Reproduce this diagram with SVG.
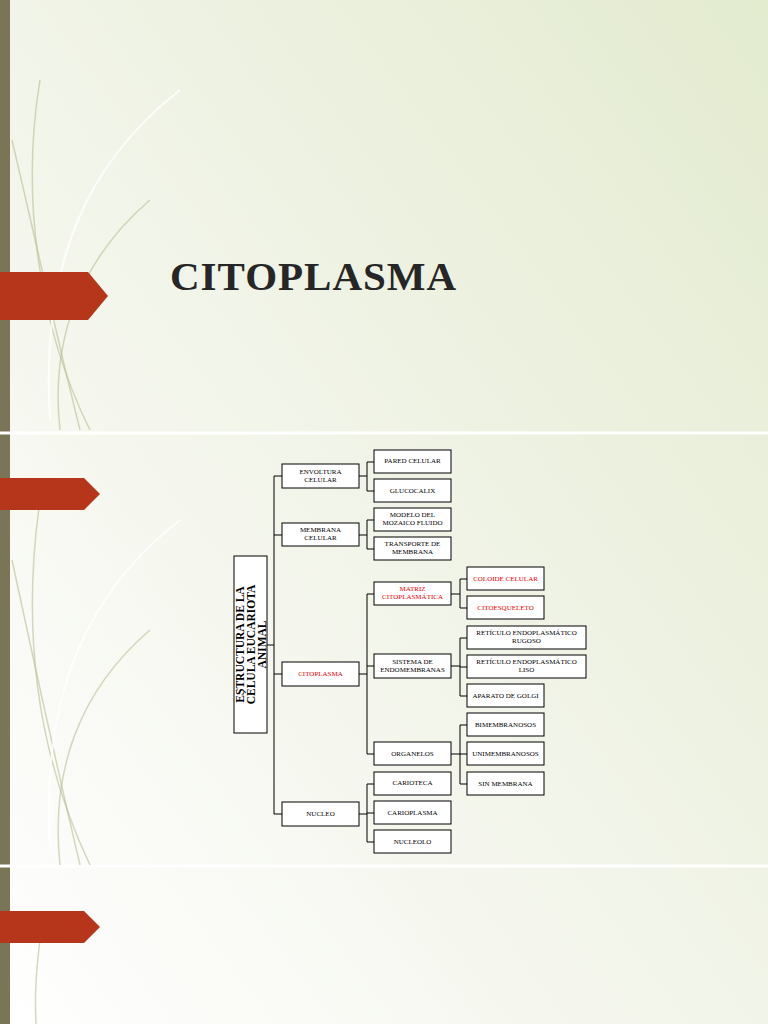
<svg xmlns="http://www.w3.org/2000/svg" width="768" height="1024" viewBox="0 0 768 1024">
<defs>
<linearGradient id="bg" x1="0" y1="1" x2="1" y2="0">
<stop offset="0" stop-color="#ffffff"/><stop offset="0.5" stop-color="#f1f4e8"/><stop offset="1" stop-color="#e3ebcf"/>
</linearGradient>
<style>
.b{fill:#fff;stroke:#000;stroke-width:1}
.t{font-family:"Liberation Serif",serif;font-size:7px;text-anchor:middle;fill:#000}
.r{fill:#e00}
.c{fill:none;stroke:#000;stroke-width:1}
.d{fill:none;stroke:#ffffff;stroke-width:2;opacity:0.8}
.d2{fill:none;stroke:#b7c092;stroke-width:1.5;opacity:0.6}
</style>
</defs>
<rect width="768" height="1024" fill="url(#bg)"/>
<rect x="0" y="0" width="10" height="1024" fill="#7a7556"/>
<line x1="0" y1="433" x2="768" y2="433" stroke="#fff" stroke-width="3"/>
<line x1="0" y1="866" x2="768" y2="866" stroke="#fff" stroke-width="3"/>
<g id="decor">
<path class="d2" d="M40 80 C20 200 40 330 90 430"/>
<path class="d2" d="M12 140 C40 260 60 350 80 430"/>
<path class="d2" d="M150 200 C80 260 50 340 60 430"/>
<path class="d" d="M180 90 C90 160 40 260 50 420"/>
<path class="d2" d="M40 500 C20 640 40 760 90 865"/>
<path class="d2" d="M12 560 C40 690 60 780 80 865"/>
<path class="d2" d="M150 630 C80 690 50 770 60 865"/>
<path class="d" d="M180 520 C90 590 40 690 50 850"/>
<path class="d2" d="M40 940 C35 980 35 1000 36 1024"/>
</g>
<g id="tabs" fill="#b5361b">
<path d="M0 272 H88 L108 296 L88 320 H0Z"/>
<path d="M0 478 H84 L100 494 L84 510 H0Z"/>
<path d="M0 911 H84 L100 927 L84 943 H0Z"/>
</g>
<text x="170" y="290" font-family="Liberation Serif,serif" font-weight="bold" font-size="41" letter-spacing="1" fill="#262626">CITOPLASMA</text>
<g id="connectors">
<path class="c" d="M267 645 H274 M274 476 V814 M274 476 H282 M274 535 H282 M274 674 H282 M274 814 H282"/>
<path class="c" d="M359 476 H367 M367 462 V491 M367 462 H374 M367 491 H374"/>
<path class="c" d="M359 535 H367 M367 520 V549 M367 520 H374 M367 549 H374"/>
<path class="c" d="M359 674 H367 M367 594 V754 M367 594 H374 M367 666 H374 M367 754 H374"/>
<path class="c" d="M359 814 H367 M367 784 V842 M367 784 H374 M367 813 H374 M367 842 H374"/>
<path class="c" d="M451 594 H460 M460 579 V608 M460 579 H467 M460 608 H467"/>
<path class="c" d="M451 666 H460 M460 638 V696 M460 638 H467 M460 667 H467 M460 696 H467"/>
<path class="c" d="M451 754 H460 M460 725 V784 M460 725 H467 M460 754 H467 M460 784 H467"/>
</g>
<g id="root"><rect class="b" x="234" y="556" width="33" height="177"/>
<text class="t" style="font-size:11.5px;font-weight:bold" transform="translate(250.5 644.5) rotate(-90)"><tspan x="0" y="-7">ESTRUCTURA DE LA</tspan><tspan x="0" y="4">CÉLULA EUCARIOTA</tspan><tspan x="0" y="15">ANIMAL</tspan></text></g>
<g id="envoltura"><rect class="b" x="282" y="464" width="77" height="24"/><text class="t" x="320.5" y="474">ENVOLTURA<tspan x="320.5" dy="8">CELULAR</tspan></text></g>
<g id="membrana"><rect class="b" x="282" y="523" width="77" height="23"/><text class="t" x="320.5" y="532">MEMBRANA<tspan x="320.5" dy="8">CELULAR</tspan></text></g>
<g id="citoplasma"><rect class="b" x="282" y="662" width="77" height="24"/><text class="t r" x="320.5" y="676">CITOPLASMA</text></g>
<g id="nucleo"><rect class="b" x="282" y="802" width="77" height="24"/><text class="t" x="320.5" y="816">NUCLEO</text></g>
<g id="pared"><rect class="b" x="374" y="450" width="77" height="23"/><text class="t" x="412.5" y="463">PARED CELULAR</text></g>
<g id="gluco"><rect class="b" x="374" y="479" width="77" height="23"/><text class="t" x="412.5" y="493">GLUCOCALIX</text></g>
<g id="modelo"><rect class="b" x="374" y="508" width="77" height="23"/><text class="t" x="412.5" y="517">MODELO DEL<tspan x="412.5" dy="8">MOZAICO FLUIDO</tspan></text></g>
<g id="transporte"><rect class="b" x="374" y="537" width="77" height="23"/><text class="t" x="412.5" y="546">TRANSPORTE DE<tspan x="412.5" dy="8">MEMBRANA</tspan></text></g>
<g id="matriz"><rect class="b" x="374" y="582" width="77" height="23"/><text class="t r" x="412.5" y="591">MATRIZ<tspan x="412.5" dy="8">CITOPLASMÁTICA</tspan></text></g>
<g id="sistema"><rect class="b" x="374" y="654" width="77" height="24"/><text class="t" x="412.5" y="664">SISTEMA DE<tspan x="412.5" dy="8">ENDOMEMBRANAS</tspan></text></g>
<g id="organelos"><rect class="b" x="374" y="742" width="77" height="23"/><text class="t" x="412.5" y="756">ORGANELOS</text></g>
<g id="carioteca"><rect class="b" x="374" y="772" width="77" height="23"/><text class="t" x="412.5" y="785">CARIOTECA</text></g>
<g id="carioplasma"><rect class="b" x="374" y="801" width="77" height="23"/><text class="t" x="412.5" y="815">CARIOPLASMA</text></g>
<g id="nucleolo"><rect class="b" x="374" y="830" width="77" height="23"/><text class="t" x="412.5" y="844">NUCLEOLO</text></g>
<g id="coloide"><rect class="b" x="467" y="567" width="77" height="23"/><text class="t r" x="505.5" y="581">COLOIDE CELULAR</text></g>
<g id="citoesq"><rect class="b" x="467" y="596" width="77" height="23"/><text class="t r" x="505.5" y="610">CITOESQUELETO</text></g>
<g id="rer"><rect class="b" x="467" y="626" width="119" height="23"/><text class="t" x="526.5" y="635">RETÍCULO ENDOPLASMÁTICO<tspan x="526.5" dy="8">RUGOSO</tspan></text></g>
<g id="rel"><rect class="b" x="467" y="655" width="119" height="23"/><text class="t" x="526.5" y="664">RETÍCULO ENDOPLASMÁTICO<tspan x="526.5" dy="8">LISO</tspan></text></g>
<g id="golgi"><rect class="b" x="467" y="684" width="77" height="23"/><text class="t" x="505.5" y="698">APARATO DE GOLGI</text></g>
<g id="bimem"><rect class="b" x="467" y="713" width="77" height="23"/><text class="t" x="505.5" y="727">BIMEMBRANOSOS</text></g>
<g id="unimem"><rect class="b" x="467" y="742" width="77" height="23"/><text class="t" x="505.5" y="756">UNIMEMBRANOSOS</text></g>
<g id="sin"><rect class="b" x="467" y="772" width="77" height="23"/><text class="t" x="505.5" y="786">SIN MEMBRANA</text></g>
</svg>
